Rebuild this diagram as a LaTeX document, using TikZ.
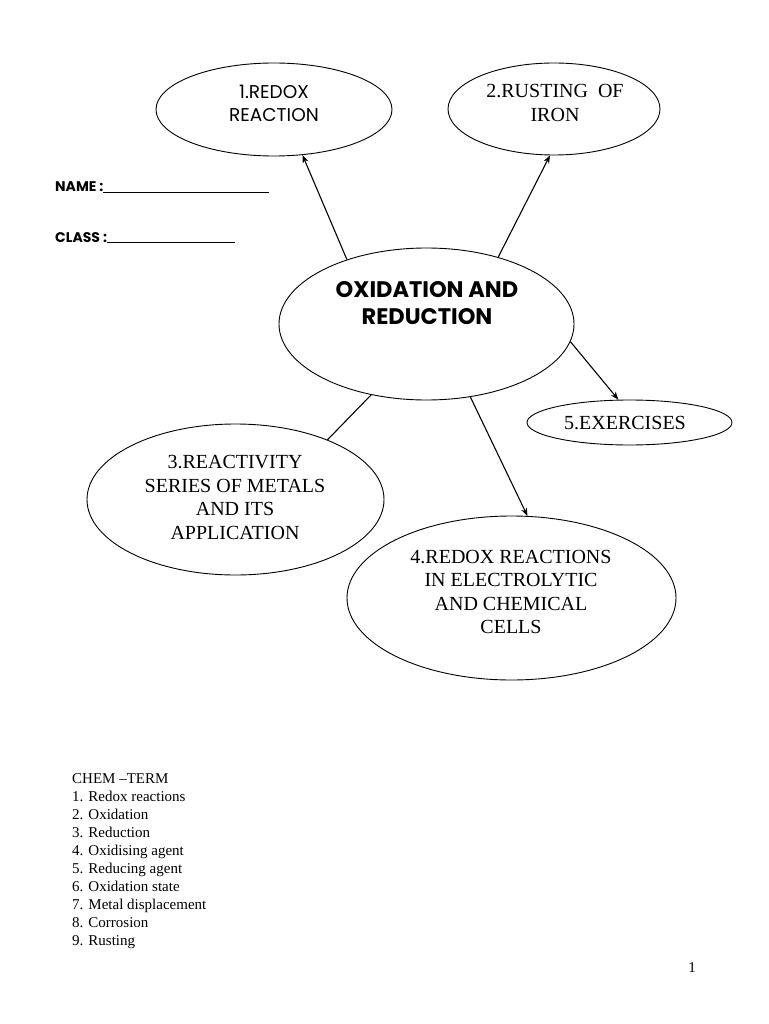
\documentclass[tikz,border=0pt]{standalone}
\usepackage{fontspec}
\setmainfont{Liberation Serif}
\newfontfamily\gothic{Poppins}
\usetikzlibrary{shapes.geometric,arrows.meta}
\begin{document}
\begin{tikzpicture}[x=1pt,y=-1pt,
  bubble/.style={draw, ellipse, inner sep=0pt, line width=0.9pt},
  serif/.style={align=center, font=\fontsize{20}{23.5}\selectfont, inner sep=0pt},
  goth/.style={align=center, font=\gothic\fontsize{18.5}{23}\selectfont, inner sep=0pt},
  gothbig/.style={align=center, font=\gothic\bfseries\fontsize{22.5}{27}\selectfont, inner sep=0pt},
  label/.style={anchor=base west, inner sep=0pt, font=\gothic\bfseries\fontsize{14}{16}\selectfont},
  term/.style={anchor=base west, inner sep=0pt, font=\fontsize{15}{18}\selectfont},
  link/.style={line width=1.1pt},
  arr/.style={link, -{Stealth[length=8pt,width=6pt]}},
]
\useasboundingbox[fill=white] (0,0) rectangle (768,1024);

% ellipses
\node[bubble, minimum width=236pt, minimum height=93pt]  (e1) at (274,109.5) {};
\node[bubble, minimum width=212pt, minimum height=92pt]  (e2) at (554,109) {};
\node[bubble, minimum width=295pt, minimum height=152pt] (c)  at (426.5,324) {};
\node[bubble, minimum width=205pt, minimum height=45pt]  (e5) at (629.5,422.5) {};
\node[bubble, minimum width=297pt, minimum height=151pt] (e3) at (235.5,499.5) {};
\node[bubble, minimum width=329pt, minimum height=164pt] (e4) at (511.5,598) {};

% texts
\node[goth]    (t1) at (274,103.5) {1.REDOX\\REACTION};
\node[serif]   (t2) at (555,103) {2.RUSTING\ \ OF\\IRON};
\node[gothbig] (tc) at (427,303.5) {OXIDATION AND\\REDUCTION};
\node[serif]   (t5) at (625,423) {5.EXERCISES};
\node[serif, font=\fontsize{20}{23.7}\selectfont] (t3) at (235,497.5) {3.REACTIVITY\\SERIES OF METALS\\AND ITS\\APPLICATION};
\node[serif]   (t4) at (511,592) {4.REDOX REACTIONS\\IN ELECTROLYTIC\\AND CHEMICAL\\CELLS};

% connectors
\draw[arr]  (c.141)   -- (e1.-58.6);
\draw[arr]  (c.43.5)  -- (e2.-95);
\draw[arr]  (c.-7)    -- (e5.116);
\draw[link] (c.-128)  -- (e3.33.6);
\draw[arr]  (c.-59.4) -- (e4.79.3);

% name / class
\node[label] (name)  at (55,192) {NAME :\rule[-1pt]{166pt}{1.2pt}};
\node[label] (class) at (55,242) {CLASS :\rule[-1pt]{128pt}{1.2pt}};

% term list
\foreach \t [count=\i from 0] in {CHEM --TERM, 1. Redox reactions, 2. Oxidation, 3. Reduction, 4. Oxidising agent, 5. Reducing agent, 6. Oxidation state, 7. Metal displacement, 8. Corrosion, 9. Rusting}
  \node[term] (l\i) at (72,{783+18*\i}) {\t};

% page number
\node[inner sep=0pt, font=\fontsize{15}{18}\selectfont] (pg) at (692,968) {1};
\end{tikzpicture}
\end{document}
